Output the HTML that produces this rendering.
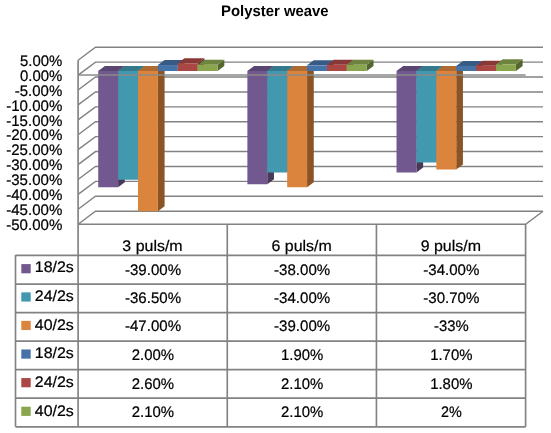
<!DOCTYPE html>
<html><head><meta charset="utf-8"><title>Polyster weave</title>
<style>html,body{margin:0;padding:0;background:#fff}svg{display:block}</style></head>
<body>
<svg width="551" height="433" viewBox="0 0 551 433" font-family="'Liberation Sans', sans-serif" font-size="15.3px" text-rendering="geometricPrecision" fill="#000">
<rect width="551" height="433" fill="#fff"/>
<path d="M78.10 60.20L95.50 47.20H543.00M78.10 75.11L95.50 62.11H543.00M78.10 90.02L95.50 77.02H543.00M78.10 104.93L95.50 91.93H543.00M78.10 119.84L95.50 106.84H543.00M78.10 134.75L95.50 121.75H543.00M78.10 149.66L95.50 136.66H543.00M78.10 164.57L95.50 151.57H543.00M78.10 179.48L95.50 166.48H543.00M78.10 194.39L95.50 181.39H543.00M78.10 209.30L95.50 196.30H543.00M78.10 224.21L95.50 211.21H543.00M78.10 224.21H525.60L543.00 211.21" fill="none" stroke="#828282" stroke-width="1.4"/>
<polygon points="118.10,71.00 124.80,66.00 124.80,182.30 118.10,187.30" fill="#483959"/>
<polygon points="98.20,71.00 118.10,71.00 124.80,66.00 104.90,66.00" fill="#5A4672"/>
<polygon points="98.20,71.00 118.10,71.00 118.10,187.30 98.20,187.30" fill="#71588F"/>
<polygon points="138.00,71.00 144.70,66.00 144.70,174.84 138.00,179.84" fill="#285D6B"/>
<polygon points="118.10,71.00 138.00,71.00 144.70,66.00 124.80,66.00" fill="#347A8C"/>
<polygon points="118.10,71.00 138.00,71.00 138.00,179.84 118.10,179.84" fill="#4198AF"/>
<polygon points="157.90,71.00 164.60,66.00 164.60,206.15 157.90,211.15" fill="#8B5427"/>
<polygon points="138.00,71.00 157.90,71.00 164.60,66.00 144.70,66.00" fill="#AF6A31"/>
<polygon points="138.00,71.00 157.90,71.00 157.90,211.15 138.00,211.15" fill="#DB843D"/>
<polygon points="177.80,65.04 184.50,60.04 184.50,66.00 177.80,71.00" fill="#2A4667"/>
<polygon points="157.90,65.04 177.80,65.04 184.50,60.04 164.60,60.04" fill="#375B86"/>
<polygon points="157.90,65.04 177.80,65.04 177.80,71.00 157.90,71.00" fill="#4572A7"/>
<polygon points="197.70,63.25 204.40,58.25 204.40,66.00 197.70,71.00" fill="#682B29"/>
<polygon points="177.80,63.25 197.70,63.25 204.40,58.25 184.50,58.25" fill="#883836"/>
<polygon points="177.80,63.25 197.70,63.25 197.70,71.00 177.80,71.00" fill="#AA4643"/>
<polygon points="217.60,64.74 224.30,59.74 224.30,66.00 217.60,71.00" fill="#546530"/>
<polygon points="197.70,64.74 217.60,64.74 224.30,59.74 204.40,59.74" fill="#6E843E"/>
<polygon points="197.70,64.74 217.60,64.74 217.60,71.00 197.70,71.00" fill="#89A54E"/>
<polygon points="267.27,71.00 273.97,66.00 273.97,179.32 267.27,184.32" fill="#483959"/>
<polygon points="247.37,71.00 267.27,71.00 273.97,66.00 254.07,66.00" fill="#5A4672"/>
<polygon points="247.37,71.00 267.27,71.00 267.27,184.32 247.37,184.32" fill="#71588F"/>
<polygon points="287.17,71.00 293.87,66.00 293.87,167.39 287.17,172.39" fill="#285D6B"/>
<polygon points="267.27,71.00 287.17,71.00 293.87,66.00 273.97,66.00" fill="#347A8C"/>
<polygon points="267.27,71.00 287.17,71.00 287.17,172.39 267.27,172.39" fill="#4198AF"/>
<polygon points="307.07,71.00 313.77,66.00 313.77,182.30 307.07,187.30" fill="#8B5427"/>
<polygon points="287.17,71.00 307.07,71.00 313.77,66.00 293.87,66.00" fill="#AF6A31"/>
<polygon points="287.17,71.00 307.07,71.00 307.07,187.30 287.17,187.30" fill="#DB843D"/>
<polygon points="326.97,65.33 333.67,60.33 333.67,66.00 326.97,71.00" fill="#2A4667"/>
<polygon points="307.07,65.33 326.97,65.33 333.67,60.33 313.77,60.33" fill="#375B86"/>
<polygon points="307.07,65.33 326.97,65.33 326.97,71.00 307.07,71.00" fill="#4572A7"/>
<polygon points="346.87,64.74 353.57,59.74 353.57,66.00 346.87,71.00" fill="#682B29"/>
<polygon points="326.97,64.74 346.87,64.74 353.57,59.74 333.67,59.74" fill="#883836"/>
<polygon points="326.97,64.74 346.87,64.74 346.87,71.00 326.97,71.00" fill="#AA4643"/>
<polygon points="366.77,64.74 373.47,59.74 373.47,66.00 366.77,71.00" fill="#546530"/>
<polygon points="346.87,64.74 366.77,64.74 373.47,59.74 353.57,59.74" fill="#6E843E"/>
<polygon points="346.87,64.74 366.77,64.74 366.77,71.00 346.87,71.00" fill="#89A54E"/>
<polygon points="416.43,71.00 423.13,66.00 423.13,167.39 416.43,172.39" fill="#483959"/>
<polygon points="396.53,71.00 416.43,71.00 423.13,66.00 403.23,66.00" fill="#5A4672"/>
<polygon points="396.53,71.00 416.43,71.00 416.43,172.39 396.53,172.39" fill="#71588F"/>
<polygon points="436.33,71.00 443.03,66.00 443.03,157.55 436.33,162.55" fill="#285D6B"/>
<polygon points="416.43,71.00 436.33,71.00 443.03,66.00 423.13,66.00" fill="#347A8C"/>
<polygon points="416.43,71.00 436.33,71.00 436.33,162.55 416.43,162.55" fill="#4198AF"/>
<polygon points="456.23,71.00 462.93,66.00 462.93,164.41 456.23,169.41" fill="#8B5427"/>
<polygon points="436.33,71.00 456.23,71.00 462.93,66.00 443.03,66.00" fill="#AF6A31"/>
<polygon points="436.33,71.00 456.23,71.00 456.23,169.41 436.33,169.41" fill="#DB843D"/>
<polygon points="476.13,65.93 482.83,60.93 482.83,66.00 476.13,71.00" fill="#2A4667"/>
<polygon points="456.23,65.93 476.13,65.93 482.83,60.93 462.93,60.93" fill="#375B86"/>
<polygon points="456.23,65.93 476.13,65.93 476.13,71.00 456.23,71.00" fill="#4572A7"/>
<polygon points="496.03,65.63 502.73,60.63 502.73,66.00 496.03,71.00" fill="#682B29"/>
<polygon points="476.13,65.63 496.03,65.63 502.73,60.63 482.83,60.63" fill="#883836"/>
<polygon points="476.13,65.63 496.03,65.63 496.03,71.00 476.13,71.00" fill="#AA4643"/>
<polygon points="515.93,64.29 522.63,59.29 522.63,66.00 515.93,71.00" fill="#546530"/>
<polygon points="496.03,64.29 515.93,64.29 522.63,59.29 502.73,59.29" fill="#6E843E"/>
<polygon points="496.03,64.29 515.93,64.29 515.93,71.00 496.03,71.00" fill="#89A54E"/>
<path d="M78.10 74.91H525.60" stroke="#8a8a8a" stroke-width="1.45" fill="none"/>
<path d="M78.10 60.20V426.82M227.27 224.21V426.82M376.43 224.21V426.82M525.60 224.21V426.82M15.50 255.10V426.82M15.50 255.35H525.60M15.50 284.10H525.60M15.50 312.55H525.60M15.50 341.15H525.60M15.50 369.65H525.60M15.50 398.15H525.60M15.50 426.80H525.60" fill="none" stroke="#828282" stroke-width="1.65" stroke-linejoin="round"/>
<text x="62.30" y="65.80" text-anchor="end" textLength="42.29" lengthAdjust="spacingAndGlyphs" stroke="#000" stroke-width="0.22">5.00%</text>
<text x="62.30" y="80.73" text-anchor="end" textLength="42.29" lengthAdjust="spacingAndGlyphs" stroke="#000" stroke-width="0.22">0.00%</text>
<text x="62.30" y="95.66" text-anchor="end" textLength="47.49" lengthAdjust="spacingAndGlyphs" stroke="#000" stroke-width="0.22">-5.00%</text>
<text x="62.30" y="110.59" text-anchor="end" textLength="56.11" lengthAdjust="spacingAndGlyphs" stroke="#000" stroke-width="0.22">-10.00%</text>
<text x="62.30" y="125.52" text-anchor="end" textLength="56.11" lengthAdjust="spacingAndGlyphs" stroke="#000" stroke-width="0.22">-15.00%</text>
<text x="62.30" y="140.45" text-anchor="end" textLength="56.11" lengthAdjust="spacingAndGlyphs" stroke="#000" stroke-width="0.22">-20.00%</text>
<text x="62.30" y="155.38" text-anchor="end" textLength="56.11" lengthAdjust="spacingAndGlyphs" stroke="#000" stroke-width="0.22">-25.00%</text>
<text x="62.30" y="170.31" text-anchor="end" textLength="56.11" lengthAdjust="spacingAndGlyphs" stroke="#000" stroke-width="0.22">-30.00%</text>
<text x="62.30" y="185.24" text-anchor="end" textLength="56.11" lengthAdjust="spacingAndGlyphs" stroke="#000" stroke-width="0.22">-35.00%</text>
<text x="62.30" y="200.17" text-anchor="end" textLength="56.11" lengthAdjust="spacingAndGlyphs" stroke="#000" stroke-width="0.22">-40.00%</text>
<text x="62.30" y="215.10" text-anchor="end" textLength="56.11" lengthAdjust="spacingAndGlyphs" stroke="#000" stroke-width="0.22">-45.00%</text>
<text x="62.30" y="230.03" text-anchor="end" textLength="56.11" lengthAdjust="spacingAndGlyphs" stroke="#000" stroke-width="0.22">-50.00%</text>
<text x="152.48" y="250.70" text-anchor="middle" textLength="60.29" lengthAdjust="spacingAndGlyphs" stroke="#000" stroke-width="0.22">3 puls/m</text>
<text x="301.65" y="250.70" text-anchor="middle" textLength="60.29" lengthAdjust="spacingAndGlyphs" stroke="#000" stroke-width="0.22">6 puls/m</text>
<text x="450.82" y="250.70" text-anchor="middle" textLength="60.29" lengthAdjust="spacingAndGlyphs" stroke="#000" stroke-width="0.22">9 puls/m</text>
<rect x="21.3" y="264.10" width="9.4" height="9.2" fill="#71588F"/>
<text x="34.80" y="272.40" text-anchor="start" textLength="39.06" lengthAdjust="spacingAndGlyphs" stroke="#000" stroke-width="0.22">18/2s</text>
<text x="152.98" y="274.70" text-anchor="middle" textLength="56.11" lengthAdjust="spacingAndGlyphs" stroke="#000" stroke-width="0.22">-39.00%</text>
<text x="302.15" y="274.70" text-anchor="middle" textLength="56.11" lengthAdjust="spacingAndGlyphs" stroke="#000" stroke-width="0.22">-38.00%</text>
<text x="451.32" y="274.70" text-anchor="middle" textLength="56.11" lengthAdjust="spacingAndGlyphs" stroke="#000" stroke-width="0.22">-34.00%</text>
<rect x="21.3" y="292.37" width="9.4" height="9.2" fill="#4198AF"/>
<text x="34.80" y="301.02" text-anchor="start" textLength="39.06" lengthAdjust="spacingAndGlyphs" stroke="#000" stroke-width="0.22">24/2s</text>
<text x="152.98" y="302.52" text-anchor="middle" textLength="56.11" lengthAdjust="spacingAndGlyphs" stroke="#000" stroke-width="0.22">-36.50%</text>
<text x="302.15" y="302.52" text-anchor="middle" textLength="56.11" lengthAdjust="spacingAndGlyphs" stroke="#000" stroke-width="0.22">-34.00%</text>
<text x="451.32" y="302.52" text-anchor="middle" textLength="56.11" lengthAdjust="spacingAndGlyphs" stroke="#000" stroke-width="0.22">-30.70%</text>
<rect x="21.3" y="320.84" width="9.4" height="9.2" fill="#DB843D"/>
<text x="34.80" y="329.64" text-anchor="start" textLength="39.06" lengthAdjust="spacingAndGlyphs" stroke="#000" stroke-width="0.22">40/2s</text>
<text x="152.98" y="331.29" text-anchor="middle" textLength="56.11" lengthAdjust="spacingAndGlyphs" stroke="#000" stroke-width="0.22">-47.00%</text>
<text x="302.15" y="331.29" text-anchor="middle" textLength="56.11" lengthAdjust="spacingAndGlyphs" stroke="#000" stroke-width="0.22">-39.00%</text>
<text x="451.32" y="331.29" text-anchor="middle" textLength="34.59" lengthAdjust="spacingAndGlyphs" stroke="#000" stroke-width="0.22">-33%</text>
<rect x="21.3" y="349.46" width="9.4" height="9.2" fill="#4572A7"/>
<text x="34.80" y="358.26" text-anchor="start" textLength="39.06" lengthAdjust="spacingAndGlyphs" stroke="#000" stroke-width="0.22">18/2s</text>
<text x="152.98" y="359.76" text-anchor="middle" textLength="42.29" lengthAdjust="spacingAndGlyphs" stroke="#000" stroke-width="0.22">2.00%</text>
<text x="302.15" y="359.76" text-anchor="middle" textLength="42.29" lengthAdjust="spacingAndGlyphs" stroke="#000" stroke-width="0.22">1.90%</text>
<text x="451.32" y="359.76" text-anchor="middle" textLength="42.29" lengthAdjust="spacingAndGlyphs" stroke="#000" stroke-width="0.22">1.70%</text>
<rect x="21.3" y="378.08" width="9.4" height="9.2" fill="#AA4643"/>
<text x="34.80" y="386.88" text-anchor="start" textLength="39.06" lengthAdjust="spacingAndGlyphs" stroke="#000" stroke-width="0.22">24/2s</text>
<text x="152.98" y="388.88" text-anchor="middle" textLength="42.29" lengthAdjust="spacingAndGlyphs" stroke="#000" stroke-width="0.22">2.60%</text>
<text x="302.15" y="388.88" text-anchor="middle" textLength="42.29" lengthAdjust="spacingAndGlyphs" stroke="#000" stroke-width="0.22">2.10%</text>
<text x="451.32" y="388.88" text-anchor="middle" textLength="42.29" lengthAdjust="spacingAndGlyphs" stroke="#000" stroke-width="0.22">1.80%</text>
<rect x="21.3" y="406.70" width="9.4" height="9.2" fill="#89A54E"/>
<text x="34.80" y="415.50" text-anchor="start" textLength="39.06" lengthAdjust="spacingAndGlyphs" stroke="#000" stroke-width="0.22">40/2s</text>
<text x="152.98" y="417.00" text-anchor="middle" textLength="42.29" lengthAdjust="spacingAndGlyphs" stroke="#000" stroke-width="0.22">2.10%</text>
<text x="302.15" y="417.00" text-anchor="middle" textLength="42.29" lengthAdjust="spacingAndGlyphs" stroke="#000" stroke-width="0.22">2.10%</text>
<text x="451.32" y="417.00" text-anchor="middle" textLength="20.77" lengthAdjust="spacingAndGlyphs" stroke="#000" stroke-width="0.22">2%</text>
<text x="274.8" y="16.3" text-anchor="middle" font-weight="bold" textLength="107.5" lengthAdjust="spacingAndGlyphs">Polyster weave</text>
</svg>
</body></html>
